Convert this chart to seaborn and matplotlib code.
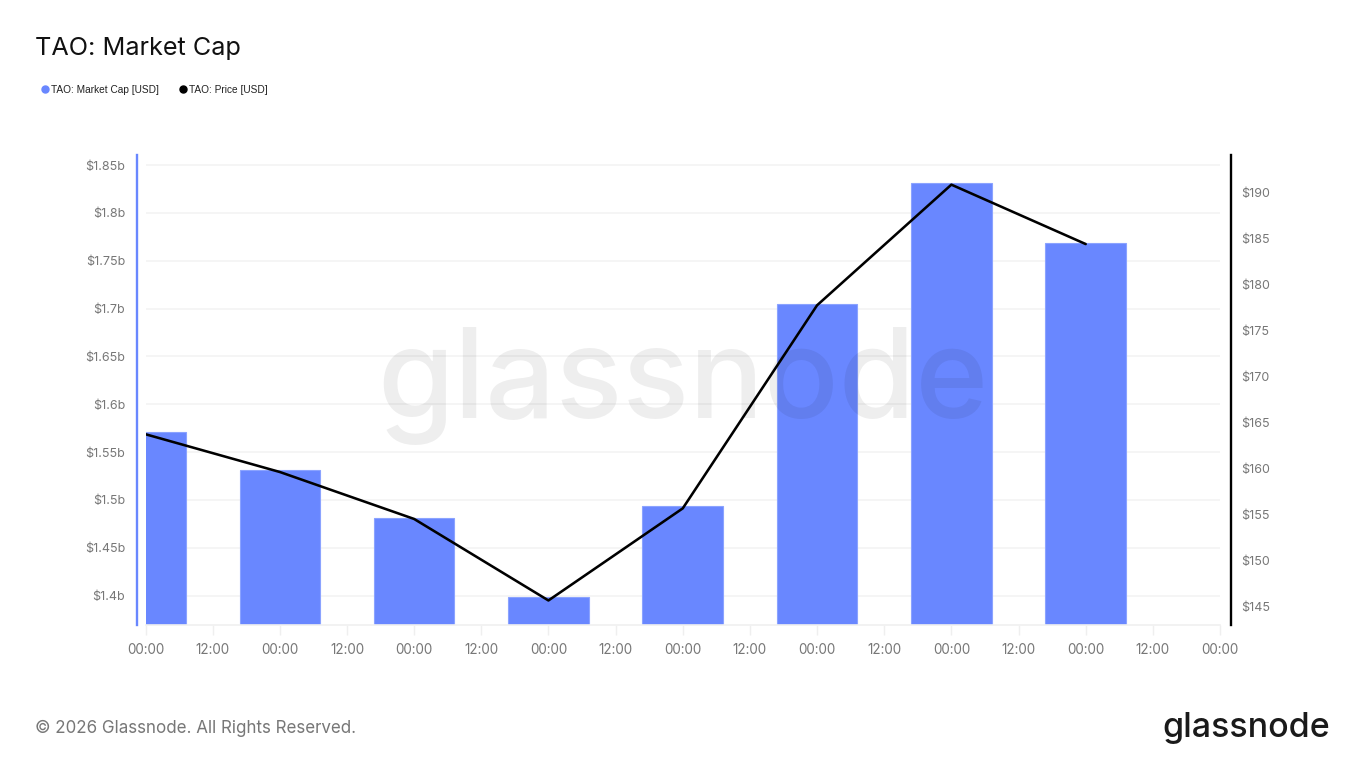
import matplotlib
matplotlib.use("Agg")
import matplotlib.pyplot as plt
from matplotlib.lines import Line2D
import pandas as pd
import seaborn as sns

day_positions = [0, 1, 2, 3, 4, 5, 6, 7]
market_cap_b = [1.571, 1.531, 1.4815, 1.398, 1.4935, 1.7047, 1.8312, 1.7685]
price_usd = [163.7, 159.6, 154.5, 145.65, 155.65, 177.7, 190.8, 184.35]
left_ticks = [1.4, 1.45, 1.5, 1.55, 1.6, 1.65, 1.7, 1.75, 1.8, 1.85]
left_labels = ["$1.4b", "$1.45b", "$1.5b", "$1.55b", "$1.6b", "$1.65b", "$1.7b", "$1.75b", "$1.8b", "$1.85b"]
right_ticks = [145, 150, 155, 160, 165, 170, 175, 180, 185, 190]
right_labels = ["$" + str(v) for v in right_ticks]
x_ticks = [i / 2 for i in range(17)]
x_labels = ["00:00", "12:00"] * 8 + ["00:00"]

BLUE = "#6987ff"
GRAY = "#777777"
W, H = 1366, 768
px = 72 / 100

sns.set_theme(style="white")
plt.rcParams["font.family"] = ["Inter", "DejaVu Sans"]

df = pd.DataFrame({"day": day_positions, "cap": market_cap_b, "price": price_usd})

fig = plt.figure(figsize=(W / 100, H / 100), dpi=100, facecolor="white")
ax = fig.add_axes([145.5 / W, 1 - 624.5 / H, (1220 - 145.5) / W, (624.5 - 155) / H])

sns.barplot(data=df, x="day", y="cap", native_scale=True, width=0.6, color=BLUE,
            saturation=1, edgecolor="#8ba3ff", linewidth=0.8, ax=ax, zorder=2)
ax.set_xlim(0, 8)
ax.set_ylim(1.3697, 1.8605)
ax.set_xticks(x_ticks, x_labels)
ax.set_yticks(left_ticks, left_labels)
ax.set_xlabel("")
ax.set_ylabel("")
ax.grid(axis="y", color="#f3f3f3", lw=1.2, zorder=0)
ax.set_axisbelow(True)
ax.tick_params(axis="x", bottom=True, length=10 * px, width=1, color="#efefef",
               labelsize=13.5 * px, labelcolor=GRAY, pad=8 * px)
ax.tick_params(axis="y", left=False, length=0, labelsize=12.5 * px, labelcolor=GRAY, pad=12 * px)
for s in ("top", "right"):
    ax.spines[s].set_visible(False)
ax.spines["bottom"].set_color("#f0f0f0")
ax.spines["bottom"].set_linewidth(1.2)
ax.spines["left"].set_position(("outward", 8.5 * px))
ax.spines["left"].set_color(BLUE)
ax.spines["left"].set_linewidth(1.7)

ax2 = ax.twinx()
sns.lineplot(data=df, x="day", y="price", color="black", lw=1.85, ax=ax2, zorder=5)
ax2.set_xlim(0, 8)
ax2.set_ylim(143.04, 194.02)
ax2.set_yticks(right_ticks, right_labels)
ax2.set_ylabel("")
ax2.set_xlabel("")
ax2.grid(False)
ax2.tick_params(axis="y", right=False, length=0, labelsize=12.5 * px, labelcolor=GRAY, pad=10 * px)
for s in ("top", "left", "bottom"):
    ax2.spines[s].set_visible(False)
ax2.spines["right"].set_position(("outward", 11 * px))
ax2.spines["right"].set_color("black")
ax2.spines["right"].set_linewidth(1.7)

fig.text(35 / W, 1 - 49 / H, "TAO: Market Cap", fontsize=25.2 * px, color="#111111", va="center", ha="left")

handles = [
    Line2D([], [], marker="o", ls="", color=BLUE, markersize=7 * px),
    Line2D([], [], marker="o", ls="", color="black", markersize=7 * px),
]
fig.legend(handles, ["TAO: Market Cap [USD]", "TAO: Price [USD]"], ncol=2, frameon=False,
           loc="center left", bbox_to_anchor=(40.5 / W, 1 - 90 / H),
           prop={"size": 10.15 * px, "family": "Liberation Sans"},
           labelcolor="#222222", handlelength=0.8, handletextpad=0.2, columnspacing=2.0,
           borderpad=0, borderaxespad=0)

fig.text(35 / W, 1 - 728 / H, "© 2026 Glassnode. All Rights Reserved.", fontsize=17 * px,
         color=GRAY, va="center", ha="left")
fig.text(1330 / W, 1 - 728 / H, "glassnode", fontsize=34 * px, color="#1a1a1a", va="center",
         ha="right", weight="medium")
fig.text(683 / W, 1 - 386 / H, "glassnode", fontsize=124 * px, color="black", alpha=0.065,
         va="center", ha="center", weight="medium", zorder=10)

fig.savefig("out.png", dpi=100, facecolor="white")
